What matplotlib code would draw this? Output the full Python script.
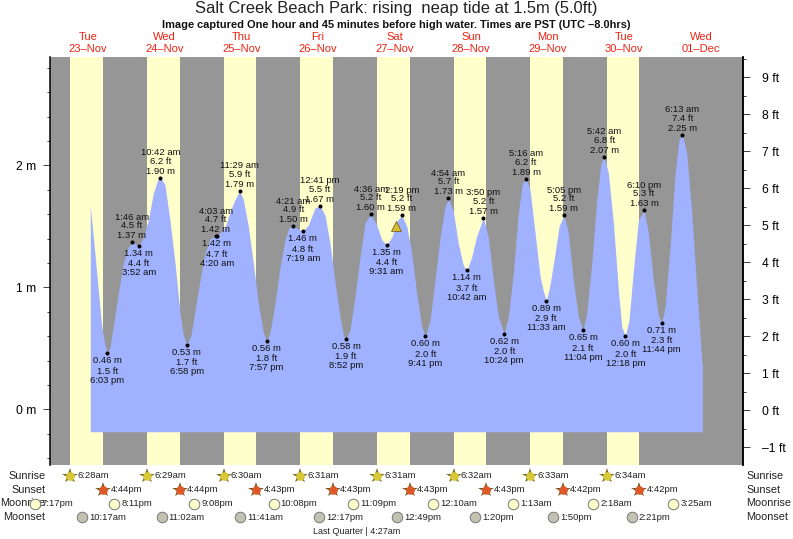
import matplotlib
matplotlib.use('Agg')
import matplotlib.pyplot as plt
from matplotlib.ticker import MultipleLocator, FuncFormatter
from matplotlib.transforms import blended_transform_factory

plt.rcParams['font.family'] = ['Liberation Sans', 'DejaVu Sans']

# tide curve, days since 23-Nov 00:00 and metres
curve_day = [0.530, 0.591, 0.679, 0.722, 0.752, 0.787, 0.830, 0.896, 0.961, 1.018, 1.074, 1.161, 1.222, 1.287,
             1.352, 1.410, 1.446, 1.505, 1.571, 1.636, 1.701, 1.744, 1.790, 1.845, 1.897, 1.962, 2.027, 2.093,
             2.169, 2.181, 2.289, 2.354, 2.419, 2.479, 2.527, 2.593, 2.658, 2.723, 2.789, 2.831, 2.876, 2.941,
             3.007, 3.072, 3.124, 3.181, 3.305, 3.376, 3.463, 3.528, 3.594, 3.659, 3.725, 3.790, 3.833, 3.869,
             3.920, 3.985, 4.051, 4.116, 4.192, 4.269, 4.334, 4.397, 4.465, 4.530, 4.597, 4.661, 4.726, 4.791,
             4.856, 4.903, 4.965, 5.030, 5.095, 5.160, 5.204, 5.269, 5.334, 5.399, 5.446, 5.509, 5.574, 5.660,
             5.726, 5.791, 5.856, 5.933, 5.987, 6.052, 6.117, 6.170, 6.219, 6.270, 6.335, 6.401, 6.440, 6.481,
             6.518, 6.544, 6.597, 6.649, 6.712, 6.770, 6.835, 6.901, 6.961, 7.010, 7.076, 7.141, 7.197, 7.238,
             7.292, 7.358, 7.423, 7.467, 7.513, 7.562, 7.619, 7.684, 7.757, 7.815, 7.880, 7.945, 7.989, 8.033,
             8.098, 8.163, 8.215, 8.259, 8.316, 8.381, 8.446, 8.512, 8.520]
curve_m = [1.67, 1.27, 0.68, 0.53, 0.46, 0.51, 0.68, 0.95, 1.20, 1.32, 1.37, 1.34, 1.41, 1.55,
           1.77, 1.88, 1.90, 1.84, 1.54, 1.20, 0.79, 0.61, 0.53, 0.61, 0.81, 1.06, 1.28, 1.40,
           1.42, 1.42, 1.49, 1.62, 1.72, 1.79, 1.72, 1.50, 1.20, 0.87, 0.63, 0.56, 0.63, 0.87,
           1.17, 1.39, 1.49, 1.50, 1.46, 1.51, 1.65, 1.67, 1.59, 1.36, 1.04, 0.76, 0.61, 0.58,
           0.65, 0.92, 1.25, 1.53, 1.60, 1.51, 1.39, 1.35, 1.41, 1.54, 1.59, 1.50, 1.28, 0.95,
           0.68, 0.60, 0.73, 1.06, 1.41, 1.66, 1.73, 1.62, 1.36, 1.18, 1.14, 1.25, 1.42, 1.57,
           1.41, 1.06, 0.76, 0.62, 0.76, 1.12, 1.61, 1.85, 1.89, 1.80, 1.45, 1.09, 0.98, 0.89,
           0.98, 1.07, 1.28, 1.50, 1.59, 1.45, 1.06, 0.76, 0.65, 0.79, 1.20, 1.72, 2.02, 2.07,
           1.94, 1.53, 0.98, 0.68, 0.60, 0.73, 1.14, 1.55, 1.63, 1.45, 1.06, 0.77, 0.71, 0.84,
           1.33, 1.93, 2.21, 2.25, 2.10, 1.61, 1.00, 0.40, 0.36]
curve_base = -0.184

# highs and lows as printed
ext_day = [0.752, 1.074, 1.161, 1.446, 1.790, 2.169, 2.181, 2.479, 2.831, 3.181, 3.305, 3.528, 3.869, 4.192, 4.397,
           4.597, 4.903, 5.204, 5.446, 5.660, 5.933, 6.219, 6.481, 6.712, 6.961, 7.238, 7.513, 7.757, 7.989, 8.259]
ext_m = [0.46, 1.37, 1.34, 1.90, 0.53, 1.42, 1.42, 1.79, 0.56, 1.50, 1.46, 1.67, 0.58, 1.60, 1.35,
         1.59, 0.60, 1.73, 1.14, 1.57, 0.62, 1.89, 0.89, 1.59, 0.65, 2.07, 0.60, 1.63, 0.71, 2.25]
ext_ft = ['1.5', '4.5', '4.4', '6.2', '1.7', '4.7', '4.7', '5.9', '1.8', '4.9', '4.8', '5.5', '1.9', '5.2', '4.4',
          '5.2', '2.0', '5.7', '3.7', '5.2', '2.0', '6.2', '2.9', '5.2', '2.1', '6.8', '2.0', '5.3', '2.3', '7.4']
ext_time = ['6:03 pm', '1:46 am', '3:52 am', '10:42 am', '6:58 pm', '4:03 am', '4:20 am', '11:29 am', '7:57 pm',
            '4:21 am', '7:19 am', '12:41 pm', '8:52 pm', '4:36 am', '9:31 am', '2:19 pm', '9:41 pm', '4:54 am',
            '10:42 am', '3:50 pm', '10:24 pm', '5:16 am', '11:33 am', '5:05 pm', '11:04 pm', '5:42 am', '12:18 pm',
            '6:10 pm', '11:44 pm', '6:13 am']
ext_high = [0, 1, 0, 1, 0, 1, 0, 1, 0, 1, 0, 1, 0, 1, 0, 1, 0, 1, 0, 1, 0, 1, 0, 1, 0, 1, 0, 1, 0, 1]

day_names = ['Tue', 'Wed', 'Thu', 'Fri', 'Sat', 'Sun', 'Mon', 'Tue', 'Wed']
day_dates = ['23\u2013Nov', '24\u2013Nov', '25\u2013Nov', '26\u2013Nov', '27\u2013Nov', '28\u2013Nov', '29\u2013Nov',
             '30\u2013Nov', '01\u2013Dec']

sunrise_day = [0.269, 1.270, 2.271, 3.272, 4.272, 5.272, 6.273, 7.274]
sunrise_txt = ['6:28am', '6:29am', '6:30am', '6:31am', '6:31am', '6:32am', '6:33am', '6:34am']
sunset_day = [0.697, 1.697, 2.697, 3.697, 4.697, 5.697, 6.696, 7.696]
sunset_txt = ['4:44pm', '4:44pm', '4:43pm', '4:43pm', '4:43pm', '4:43pm', '4:42pm', '4:42pm']
moonrise_day = [-0.197, 0.841, 1.881, 2.922, 3.965, 5.007, 6.051, 7.096, 8.142]
moonrise_txt = ['7:17pm', '8:11pm', '9:08pm', '10:08pm', '11:09pm', '12:10am', '1:13am', '2:18am', '3:25am']
moonset_day = [0.428, 1.460, 2.487, 3.512, 4.534, 5.556, 6.576, 7.597]
moonset_txt = ['10:17am', '11:02am', '11:41am', '12:17pm', '12:49pm', '1:20pm', '1:50pm', '2:21pm']

W, H = 793, 539
now_day, now_m = 4.52, 1.5

fig = plt.figure(figsize=(W/100, H/100), dpi=100)
ax = fig.add_axes([49.7/W, 1-465/H, 693.3/W, 408/H])
ax.set_facecolor('#969696')
ax.set_xlim(0, 9.05)
ax.set_ylim(-0.4566, 2.888)

for a, b in zip(sunrise_day, sunset_day):
    ax.axvspan(a, b, color='#ffffcc', lw=0, zorder=1)
ax.fill_between(curve_day, curve_base, curve_m, color='#9fb1ff', lw=0, zorder=2)
ax.plot(ext_day, ext_m, 'o', color='k', ms=2.9, mew=0, zorder=3)
ax.plot([now_day], [now_m], '^', color='#d9bd35', mec='#7a6420', mew=0.6, ms=7.5, zorder=4)


def px_label(x, y, dy, s):
    ax.annotate(s, (x, y), xytext=(0, dy*0.72), textcoords='offset points', ha='center', va='center',
                fontsize=6.8, color='#111111', zorder=5)


for d, m, ft, t, hi in zip(ext_day, ext_m, ext_ft, ext_time, ext_high):
    if hi:
        px_label(d, m, 6.5, '%.2f m' % m)
        px_label(d, m, 16.5, ft + ' ft')
        px_label(d, m, 25, t)
    else:
        px_label(d, m, -7.5, '%.2f m' % m)
        px_label(d, m, -18, ft + ' ft')
        px_label(d, m, -27, t)

# axes and ticks
ax.spines['top'].set_visible(False)
ax.spines['bottom'].set_visible(False)
ax.spines['left'].set_linewidth(1.1)
ax.spines['right'].set_linewidth(1.1)
ax.set_xticks([])
ax.yaxis.set_major_locator(MultipleLocator(1))
ax.yaxis.set_minor_locator(MultipleLocator(0.2))
ax.yaxis.set_major_formatter(FuncFormatter(lambda v, p: '%d m' % v))
ax.tick_params(axis='y', which='major', length=5, width=0.6, labelsize=8.7, pad=5, color='#222222')
ax.tick_params(axis='y', which='minor', length=2.2, width=0.6, color='#222222')

ax2 = ax.twinx()
ax2.set_ylim(-1.478, 9.55)
ax2.spines['top'].set_visible(False)
ax2.spines['bottom'].set_visible(False)
ax2.spines['left'].set_visible(False)
ax2.spines['right'].set_linewidth(1.1)
ax2.yaxis.set_major_locator(MultipleLocator(1))
ax2.yaxis.set_minor_locator(MultipleLocator(0.5))
ax2.yaxis.set_major_formatter(FuncFormatter(lambda v, p: ('%d ft' % v).replace('-', '\u2013')))
ax2.tick_params(axis='y', which='major', length=5, width=0.6, labelsize=8.7, pad=9, color='#222222')
ax2.tick_params(axis='y', which='minor', length=2.2, width=0.6, color='#222222')

# titles
fig.text(396/W, 1-9/H, 'Salt Creek Beach Park: rising  neap tide at 1.5m (5.0ft)', ha='center', va='center',
         fontsize=11.93, color='#222222')
fig.text(396/W, 1-25.5/H, 'Image captured One hour and 45 minutes before high water. Times are PST (UTC \u20138.0hrs)',
         ha='center', va='center', fontsize=7.9, fontweight='bold', color='#111111')

# day labels and the rows under the plot share the plot's x scale
tr = blended_transform_factory(ax.transData, fig.transFigure)
for i in range(len(day_names)):
    ax.text(i+0.5, 1-37.5/H, day_names[i], transform=tr, ha='center', va='center', fontsize=8, color='#ee2211',
            clip_on=False)
    ax.text(i+0.5, 1-49/H, day_dates[i], transform=tr, ha='center', va='center', fontsize=8, color='#ee2211',
            clip_on=False)


def row(days, txts, y, kind):
    fy = 1-y/H
    for d, s in zip(days, txts):
        if kind == 'rise':
            ax.plot([d], [fy], '*', transform=tr, color='#7d6d22', ms=11.5, mew=0, clip_on=False, zorder=7)
            ax.plot([d], [fy], 'o', transform=tr, color='#d6c836', ms=6.2, mew=0, clip_on=False, zorder=8)
        elif kind == 'set':
            ax.plot([d], [fy], '*', transform=tr, color='#7d5a22', ms=11.5, mew=0, clip_on=False, zorder=7)
            ax.plot([d], [fy], 'o', transform=tr, color='#dd5a28', ms=6.2, mew=0, clip_on=False, zorder=8)
        else:
            c = '#ffffcc' if kind == 'moonrise' else '#c2c2b2'
            ax.plot([d], [fy], 'o', transform=tr, color=c, mec='#777777', mew=0.7, ms=7.6, clip_on=False, zorder=7)
        ax.annotate(s, (d, fy), xycoords=tr, xytext=(5.2, 0), textcoords='offset points', ha='left', va='center',
                    fontsize=6.8, color='#222222', annotation_clip=False, zorder=6)


row(sunrise_day, sunrise_txt, 476, 'rise')
row(sunset_day, sunset_txt, 490, 'set')
row(moonrise_day, moonrise_txt, 503.5, 'moonrise')
row(moonset_day, moonset_txt, 517, 'moonset')

for name, y in zip(['Sunrise', 'Sunset', 'Moonrise', 'Moonset'], [476, 490, 503.5, 517]):
    fig.text(45.5/W, 1-y/H, name, ha='right', va='center', fontsize=7.8, color='#222222', zorder=-1)
    fig.text(746.5/W, 1-y/H, name, ha='left', va='center', fontsize=7.8, color='#222222')

fig.text(357/W, 1-531/H, 'Last Quarter | 4:27am', ha='center', va='center', fontsize=6.5, color='#222222')

fig.savefig('out.png', dpi=100)
